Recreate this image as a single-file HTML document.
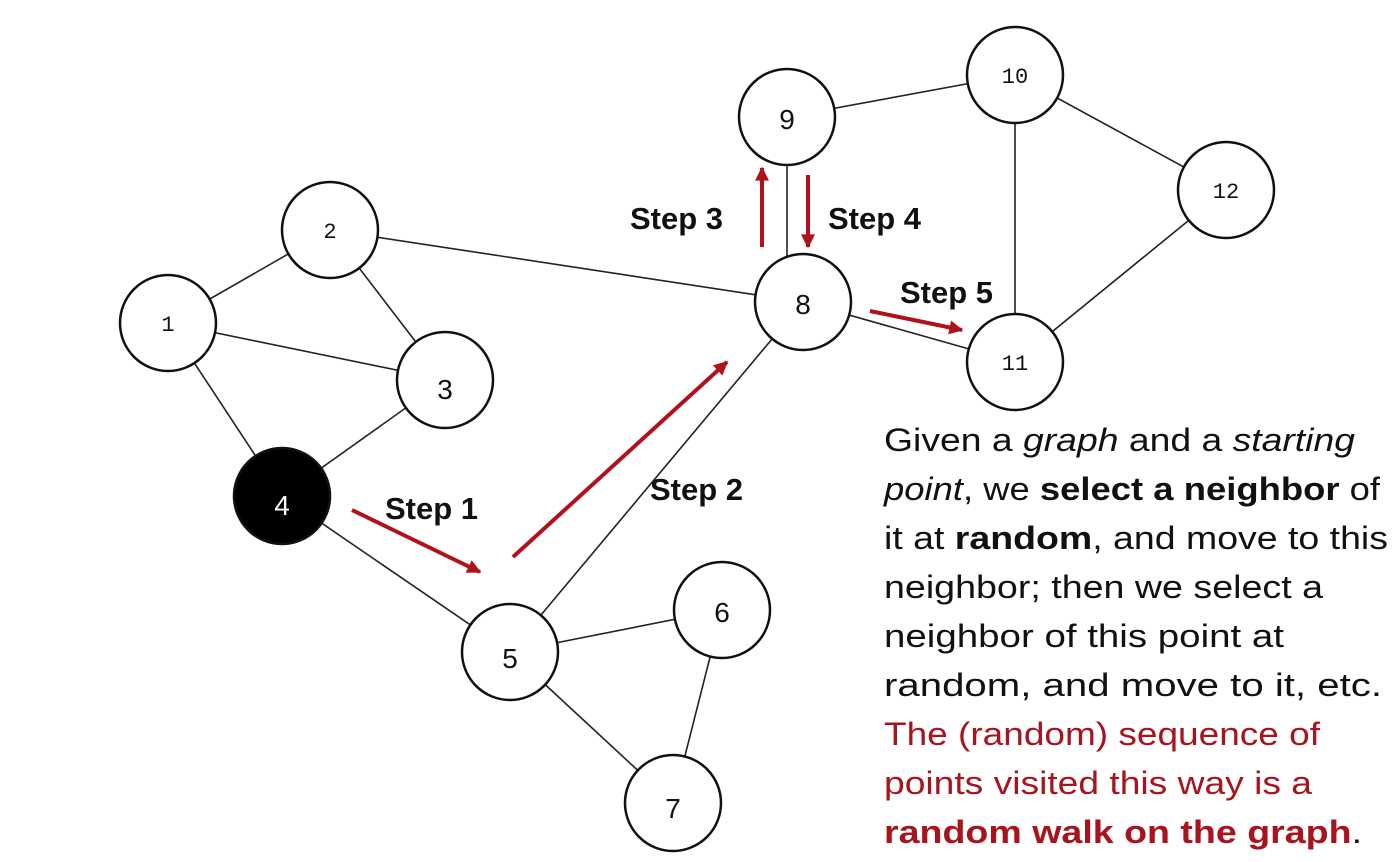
<!DOCTYPE html>
<html><head><meta charset="utf-8"><style>html,body{margin:0;padding:0;background:#fff;}svg{display:block}</style></head>
<body>
<svg width="1400" height="862" viewBox="0 0 1400 862" xmlns="http://www.w3.org/2000/svg">
<defs>
<marker id="ah" markerWidth="10" markerHeight="8" refX="9" refY="4" orient="auto" markerUnits="userSpaceOnUse"><path d="M0,0 L0,0 L14,4 L0,8 Z" fill="#b0121b" transform="scale(1)"/></marker>
<marker id="a" viewBox="0 0 10 10" refX="9" refY="5" markerWidth="16" markerHeight="14" orient="auto" markerUnits="userSpaceOnUse"><path d="M0,0 L10,5 L0,10 Z" fill="#b0121b"/></marker>
</defs>
<g stroke="#222" stroke-width="1.6">
<line x1="168" y1="323" x2="330" y2="230"/>
<line x1="168" y1="323" x2="445" y2="380"/>
<line x1="168" y1="323" x2="282" y2="496"/>
<line x1="330" y1="230" x2="445" y2="380"/>
<line x1="330" y1="230" x2="803" y2="302"/>
<line x1="445" y1="380" x2="282" y2="496"/>
<line x1="282" y1="496" x2="510" y2="652"/>
<line x1="510" y1="652" x2="803" y2="302"/>
<line x1="510" y1="652" x2="722" y2="610"/>
<line x1="510" y1="652" x2="673" y2="803"/>
<line x1="722" y1="610" x2="673" y2="803"/>
<line x1="787" y1="117" x2="787" y2="302"/>
<line x1="803" y1="302" x2="1015" y2="362"/>
<line x1="787" y1="117" x2="1015" y2="75"/>
<line x1="1015" y1="75" x2="1015" y2="362"/>
<line x1="1015" y1="75" x2="1226" y2="190"/>
<line x1="1015" y1="362" x2="1226" y2="190"/>
</g>
<g stroke="#111" stroke-width="2.5" fill="#fff">
<circle cx="168" cy="323" r="48"/>
<circle cx="330" cy="230" r="48"/>
<circle cx="445" cy="380" r="48"/>
<circle cx="282" cy="496" r="48" fill="#000"/>
<circle cx="510" cy="652" r="48"/>
<circle cx="722" cy="610" r="48"/>
<circle cx="673" cy="803" r="48"/>
<circle cx="803" cy="302" r="48"/>
<circle cx="787" cy="117" r="48"/>
<circle cx="1015" cy="75" r="48"/>
<circle cx="1015" cy="362" r="48"/>
<circle cx="1226" cy="190" r="48"/>
</g>
<g font-family="Liberation Mono, monospace" font-size="22" text-anchor="middle" fill="#111">
<text x="168" y="331">1</text>
<text x="330" y="238">2</text>
<text x="1015" y="83">10</text>
<text x="1015" y="370">11</text>
<text x="1226" y="198">12</text>
</g>
<g font-family="Liberation Sans, sans-serif" font-size="28" text-anchor="middle" fill="#111">
<text x="445" y="399">3</text>
<text x="282" y="515" fill="#fff">4</text>
<text x="510" y="668">5</text>
<text x="722" y="622">6</text>
<text x="673" y="818">7</text>
<text x="803" y="314">8</text>
<text x="787" y="129">9</text>
</g>
<g stroke="#b0121b" stroke-width="4" marker-end="url(#a)">
<line x1="352" y1="510" x2="480" y2="572"/>
<line x1="513" y1="557" x2="727" y2="362"/>
<line x1="762" y1="247" x2="762" y2="168"/>
<line x1="808" y1="175" x2="808" y2="247"/>
<line x1="870" y1="311" x2="962" y2="330"/>
</g>
<g font-family="Liberation Sans, sans-serif" font-size="31" font-weight="bold" fill="#111">
<text x="385" y="519">Step 1</text>
<text x="650" y="500">Step 2</text>
<text x="630" y="229">Step 3</text>
<text x="828" y="229">Step 4</text>
<text x="900" y="303">Step 5</text>
</g>
<g font-family="Liberation Sans, sans-serif" font-size="32" fill="#111" lengthAdjust="spacingAndGlyphs">
<text x="884" y="451" textLength="471" lengthAdjust="spacingAndGlyphs">Given a <tspan font-style="italic">graph</tspan> and a <tspan font-style="italic">starting</tspan></text>
<text x="884" y="500" textLength="496" lengthAdjust="spacingAndGlyphs"><tspan font-style="italic">point</tspan>, we <tspan font-weight="bold">select a neighbor</tspan> of</text>
<text x="884" y="549" textLength="504" lengthAdjust="spacingAndGlyphs">it at <tspan font-weight="bold">random</tspan>, and move to this</text>
<text x="884" y="598" textLength="439" lengthAdjust="spacingAndGlyphs">neighbor; then we select a</text>
<text x="884" y="647" textLength="400" lengthAdjust="spacingAndGlyphs">neighbor of this point at</text>
<text x="884" y="696" textLength="498" lengthAdjust="spacingAndGlyphs">random, and move to it, etc.</text>
<g fill="#a8141e">
<text x="884" y="745" textLength="436" lengthAdjust="spacingAndGlyphs">The (random) sequence of</text>
<text x="884" y="794" textLength="428" lengthAdjust="spacingAndGlyphs">points visited this way is a</text>
<text x="884" y="843" textLength="478" lengthAdjust="spacingAndGlyphs"><tspan font-weight="bold">random walk on the graph</tspan><tspan fill="#111">.</tspan></text>
</g>
</g>
</svg>
</body></html>
